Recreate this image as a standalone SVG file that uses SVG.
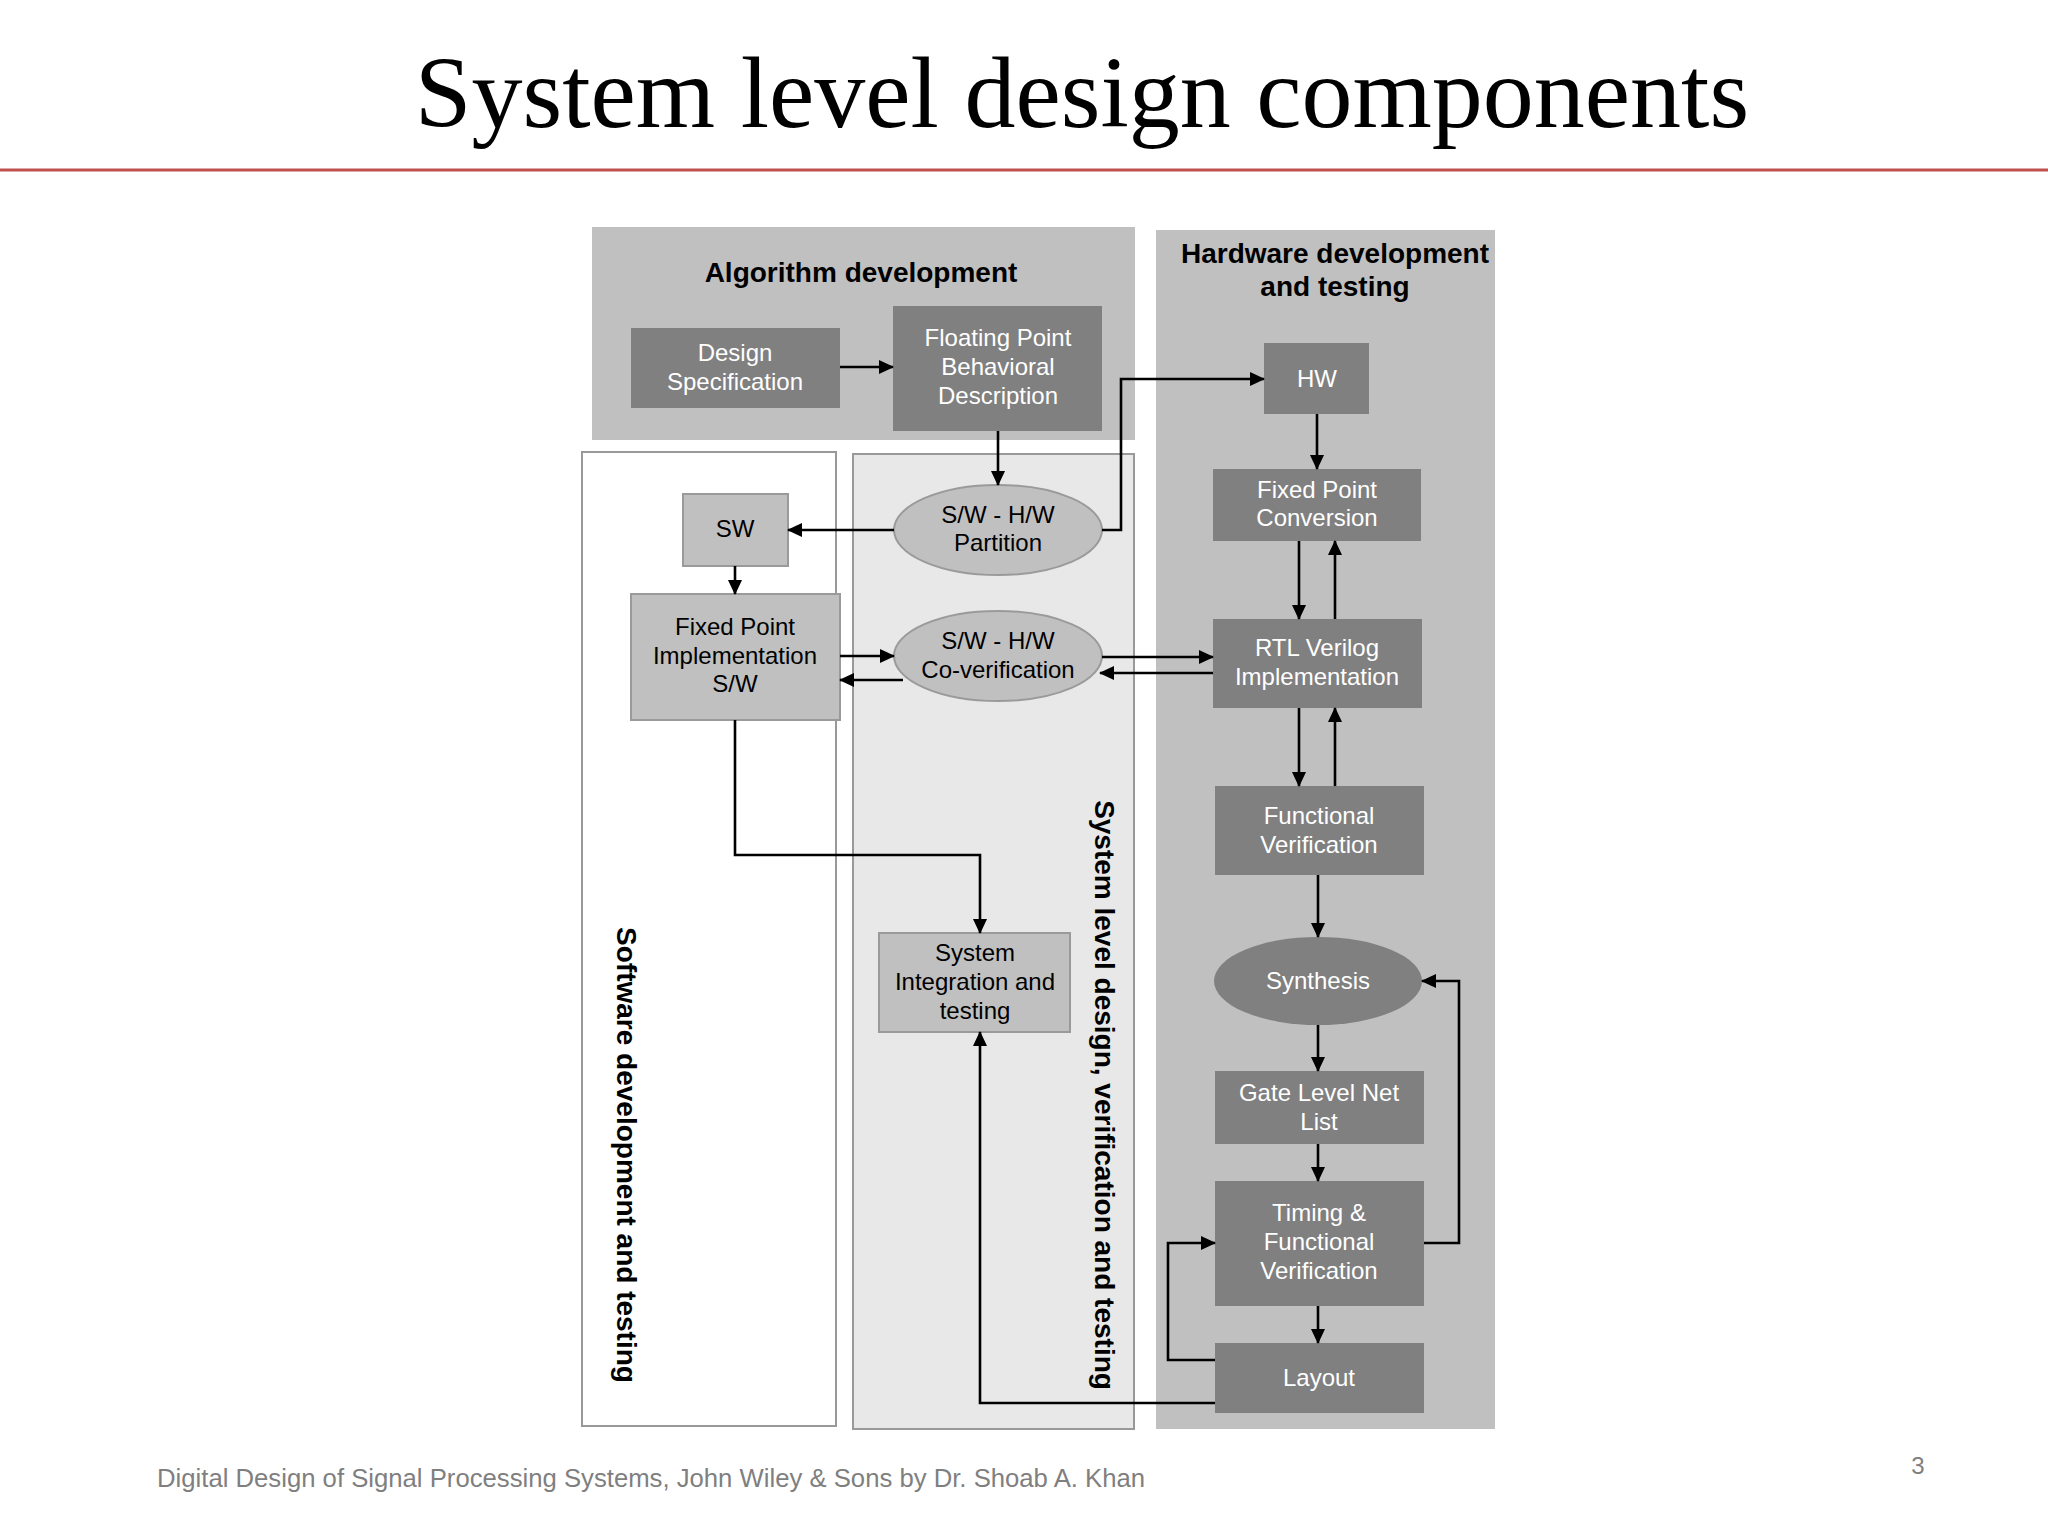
<svg xmlns="http://www.w3.org/2000/svg" width="2048" height="1536" viewBox="0 0 2048 1536">
<style>
.dark{fill:#808080;}
.light{fill:#c0c0c0;stroke:#9a9a9a;stroke-width:2;}
.wt{font-family:"Liberation Sans",Arial,sans-serif;font-size:24px;fill:#ffffff;text-anchor:middle;}
.bt{font-family:"Liberation Sans",Arial,sans-serif;font-size:24px;fill:#000000;text-anchor:middle;}
.hd{font-family:"Liberation Sans",Arial,sans-serif;font-size:28px;font-weight:bold;fill:#000000;text-anchor:middle;}
.conn{fill:none;stroke:#000;stroke-width:2.6;}
</style>
<defs>
<marker id="ah" viewBox="0 0 15 14" refX="14" refY="7" markerWidth="15" markerHeight="14" markerUnits="userSpaceOnUse" orient="auto">
<path d="M0,0 L15,7 L0,14 Z" fill="#000"/>
</marker>
</defs>
<rect width="2048" height="1536" fill="#ffffff"/>
<text x="1082" y="127" font-family="'Liberation Serif','Times New Roman',serif" font-size="102" text-anchor="middle" fill="#000">System level design components</text>
<line x1="0" y1="170" x2="2048" y2="170" stroke="#c0504d" stroke-width="3"/>

<g id="regions">
<rect id="alg-region" x="592" y="227" width="543" height="213" fill="#c0c0c0"/>
<rect id="hw-region" x="1156" y="230" width="339" height="1199" fill="#c0c0c0"/>
<rect id="sw-region" x="582" y="452" width="254" height="974" fill="#ffffff" stroke="#999" stroke-width="2"/>
<rect id="sys-region" x="853" y="454" width="281" height="975" fill="#e8e8e8" stroke="#999" stroke-width="2"/>
<text class="hd" x="861" y="282">Algorithm development</text>
<text class="hd" x="1335" y="263">Hardware development</text>
<text class="hd" x="1335" y="296">and testing</text>
<text class="hd" transform="translate(627,1155) rotate(90)" x="0" y="10">Software development and testing</text>
<text class="hd" transform="translate(1105,1095) rotate(90)" x="0" y="10">System level design, verification and testing</text>
</g>

<g id="design-spec">
<rect class="dark" x="631" y="328" width="209" height="80"/>
<text class="wt" x="735" y="361">Design</text>
<text class="wt" x="735" y="390">Specification</text>
</g>
<g id="floating-point">
<rect class="dark" x="893" y="306" width="209" height="125"/>
<text class="wt" x="998" y="346">Floating Point</text>
<text class="wt" x="998" y="375">Behavioral</text>
<text class="wt" x="998" y="404">Description</text>
</g>
<g id="hw">
<rect class="dark" x="1264" y="343" width="105" height="71"/>
<text class="wt" x="1317" y="387">HW</text>
</g>
<g id="fixed-point-conversion">
<rect class="dark" x="1213" y="469" width="208" height="72"/>
<text class="wt" x="1317" y="498">Fixed Point</text>
<text class="wt" x="1317" y="526">Conversion</text>
</g>
<g id="rtl">
<rect class="dark" x="1213" y="619" width="209" height="89"/>
<text class="wt" x="1317" y="656">RTL Verilog</text>
<text class="wt" x="1317" y="685">Implementation</text>
</g>
<g id="functional-verification">
<rect class="dark" x="1215" y="786" width="209" height="89"/>
<text class="wt" x="1319" y="824">Functional</text>
<text class="wt" x="1319" y="853">Verification</text>
</g>
<g id="synthesis">
<ellipse class="dark" cx="1318" cy="981" rx="104" ry="44"/>
<text class="wt" x="1318" y="989">Synthesis</text>
</g>
<g id="gate-level">
<rect class="dark" x="1215" y="1071" width="209" height="73"/>
<text class="wt" x="1319" y="1101">Gate Level Net</text>
<text class="wt" x="1319" y="1130">List</text>
</g>
<g id="timing">
<rect class="dark" x="1215" y="1181" width="209" height="125"/>
<text class="wt" x="1319" y="1221">Timing &amp;</text>
<text class="wt" x="1319" y="1250">Functional</text>
<text class="wt" x="1319" y="1279">Verification</text>
</g>
<g id="layout">
<rect class="dark" x="1215" y="1343" width="209" height="70"/>
<text class="wt" x="1319" y="1386">Layout</text>
</g>
<g id="sw">
<rect class="light" x="683" y="494" width="105" height="72"/>
<text class="bt" x="735" y="537">SW</text>
</g>
<g id="fixed-point-impl">
<rect class="light" x="631" y="594" width="209" height="126"/>
<text class="bt" x="735" y="635">Fixed Point</text>
<text class="bt" x="735" y="664">Implementation</text>
<text class="bt" x="735" y="692">S/W</text>
</g>
<g id="partition">
<ellipse class="light" cx="998" cy="530" rx="104" ry="45"/>
<text class="bt" x="998" y="523">S/W - H/W</text>
<text class="bt" x="998" y="551">Partition</text>
</g>
<g id="co-verification">
<ellipse class="light" cx="998" cy="656" rx="104" ry="45"/>
<text class="bt" x="998" y="649">S/W - H/W</text>
<text class="bt" x="998" y="678">Co-verification</text>
</g>
<g id="system-integration">
<rect class="light" x="879" y="933" width="191" height="99"/>
<text class="bt" x="975" y="961">System</text>
<text class="bt" x="975" y="990">Integration and</text>
<text class="bt" x="975" y="1019">testing</text>
</g>

<g id="connectors">
<path class="conn" marker-end="url(#ah)" d="M840,367 L893,367"/>
<path class="conn" marker-end="url(#ah)" d="M998,431 L998,485"/>
<path class="conn" marker-end="url(#ah)" d="M1102,530 L1121,530 L1121,379 L1264,379"/>
<path class="conn" marker-end="url(#ah)" d="M894,530 L788,530"/>
<path class="conn" marker-end="url(#ah)" d="M735,566 L735,594"/>
<path class="conn" marker-end="url(#ah)" d="M840,656 L894,656"/>
<path class="conn" marker-end="url(#ah)" d="M903,680 L840,680"/>
<path class="conn" marker-end="url(#ah)" d="M1102,657 L1213,657"/>
<path class="conn" marker-end="url(#ah)" d="M1213,673 L1100,673"/>
<path class="conn" marker-end="url(#ah)" d="M1317,414 L1317,469"/>
<path class="conn" marker-end="url(#ah)" d="M1299,541 L1299,619"/>
<path class="conn" marker-end="url(#ah)" d="M1335,619 L1335,541"/>
<path class="conn" marker-end="url(#ah)" d="M1299,708 L1299,786"/>
<path class="conn" marker-end="url(#ah)" d="M1335,786 L1335,708"/>
<path class="conn" marker-end="url(#ah)" d="M1318,875 L1318,937"/>
<path class="conn" marker-end="url(#ah)" d="M1318,1025 L1318,1071"/>
<path class="conn" marker-end="url(#ah)" d="M1318,1144 L1318,1181"/>
<path class="conn" marker-end="url(#ah)" d="M1318,1306 L1318,1343"/>
<path class="conn" marker-end="url(#ah)" d="M1424,1243 L1459,1243 L1459,981 L1422,981"/>
<path class="conn" marker-end="url(#ah)" d="M1215,1360 L1168,1360 L1168,1243 L1215,1243"/>
<path class="conn" marker-end="url(#ah)" d="M1215,1403 L980,1403 L980,1032"/>
<path class="conn" marker-end="url(#ah)" d="M735,720 L735,855 L980,855 L980,933"/>
</g>

<text x="157" y="1487" font-family="'Liberation Sans',Arial,sans-serif" font-size="25.7" fill="#7f7f7f">Digital Design of Signal Processing Systems, John Wiley &amp; Sons by Dr. Shoab A. Khan</text>
<text x="1918" y="1474" font-family="'Liberation Sans',Arial,sans-serif" font-size="24" fill="#7f7f7f" text-anchor="middle">3</text>
</svg>
